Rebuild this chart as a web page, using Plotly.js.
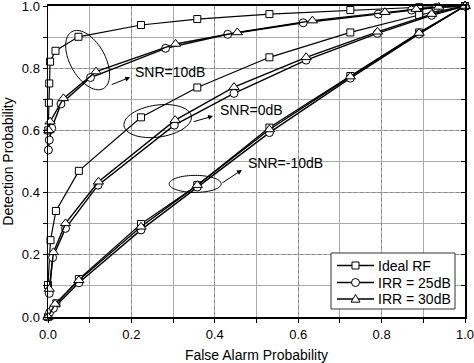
<!DOCTYPE html>
<html><head><meta charset="utf-8">
<script src="https://cdn.plot.ly/plotly-3.0.1.min.js"></script>
<style>body{margin:0;background:#fff}#c{width:474px;height:363px}</style>
</head><body><div id="c"></div>
<script>
// ---- data ----
const seriesNames = ['Ideal RF', 'IRR = 25dB', 'IRR = 30dB'];
// SNR = 10 dB
const ideal10_x = [0.0005, 0.002, 0.003, 0.005, 0.018, 0.073, 0.223, 0.358, 0.531, 0.725, 0.89, 1];
const ideal10_y = [0.60, 0.689, 0.751, 0.821, 0.856, 0.901, 0.939, 0.958, 0.974, 0.987, 0.996, 1];
const irr25_10_x = [0.001, 0.003, 0.009, 0.031, 0.102, 0.282, 0.431, 0.612, 0.792, 0.872, 0.93, 1];
const irr25_10_y = [0.537, 0.569, 0.607, 0.685, 0.770, 0.864, 0.909, 0.946, 0.974, 0.987, 0.995, 1];
const irr30_10_x = [0.002, 0.005, 0.037, 0.115, 0.306, 0.454, 0.634, 0.808, 0.883, 0.937, 1];
const irr30_10_y = [0.60, 0.628, 0.703, 0.789, 0.878, 0.915, 0.953, 0.98, 0.99, 0.997, 1];
// SNR = 0 dB
const ideal0_x = [0, 0.006, 0.019, 0.074, 0.223, 0.358, 0.531, 0.725, 0.89, 1];
const ideal0_y = [0.103, 0.247, 0.341, 0.470, 0.642, 0.738, 0.835, 0.915, 0.971, 1];
const irr25_0_x = [0.003, 0.011, 0.042, 0.12, 0.303, 0.446, 0.619, 0.79, 0.92, 1];
const irr25_0_y = [0.076, 0.191, 0.285, 0.424, 0.617, 0.719, 0.826, 0.912, 0.97, 1];
const irr30_0_x = [0.003, 0.013, 0.042, 0.121, 0.305, 0.446, 0.619, 0.79, 0.92, 1];
const irr30_0_y = [0.09, 0.208, 0.301, 0.435, 0.633, 0.739, 0.835, 0.917, 0.974, 1];
// SNR = -10 dB
const idealm10_x = [0, 0.02, 0.074, 0.223, 0.358, 0.531, 0.725, 0.89, 1];
const idealm10_y = [0, 0.044, 0.122, 0.299, 0.424, 0.609, 0.775, 0.915, 1];
const irr25_m10_x = [0, 0.004, 0.013, 0.074, 0.223, 0.358, 0.531, 0.725, 0.89, 1];
const irr25_m10_y = [0, 0.015, 0.028, 0.110, 0.280, 0.418, 0.593, 0.768, 0.91, 1];
const irr30_m10_x = [0, 0.017, 0.074, 0.223, 0.358, 0.531, 0.725, 0.89, 1];
const irr30_m10_y = [0, 0.042, 0.118, 0.290, 0.424, 0.603, 0.773, 0.913, 1];
const snrLabels = ['SNR=10dB', 'SNR=0dB', 'SNR=-10dB'];
const xTicks = [0.0, 0.2, 0.4, 0.6, 0.8, 1.0];
const yTicks = [0.0, 0.2, 0.4, 0.6, 0.8, 1.0];

// ---- layout geometry ----
const W = 474, H = 363, ML = 48, MR = 9, MT = 6, MB = 46;
const PW = W - ML - MR, PH = H - MT - MB;
const FONT = 'Liberation Sans, Arial, sans-serif';

const styles = [
  {symbol: 'square', size: 7, width: 1.2},
  {symbol: 'circle', size: 8, width: 1.4},
  {symbol: 'triangle-up', size: 9, width: 1.4}
];
function tr(x, y, k) {
  const s = styles[k];
  return {
    x: x, y: y, type: 'scatter', mode: 'lines+markers',
    name: seriesNames[k], showlegend: false,
    line: {color: '#000', width: s.width},
    marker: {symbol: s.symbol, size: s.size, color: '#fff',
             line: {color: '#000', width: 1}},
    cliponaxis: false
  };
}
const data = [
  tr(ideal10_x, ideal10_y, 0),
  tr(irr25_10_x, irr25_10_y, 1),
  tr(irr30_10_x, irr30_10_y, 2),
  tr(ideal0_x, ideal0_y, 0),
  tr(irr25_0_x, irr25_0_y, 1),
  tr(irr30_0_x, irr30_0_y, 2),
  tr(idealm10_x, idealm10_y, 0),
  tr(irr25_m10_x, irr25_m10_y, 1),
  tr(irr30_m10_x, irr30_m10_y, 2),
  // empty helper trace so the right-hand tick axis is drawn
  {x: [], y: [], xaxis: 'x', yaxis: 'y2', type: 'scatter', mode: 'lines', showlegend: false, hoverinfo: 'skip'}
];

// ellipse outline (decoration) centred at data point, radii in pixels
function ellipse(cx, cy, rx, ry, angDeg) {
  const a = angDeg * Math.PI / 180, n = 72;
  let p = '';
  for (let i = 0; i <= n; i++) {
    const t = 2 * Math.PI * i / n;
    const dx = rx * Math.cos(t) * Math.cos(a) - ry * Math.sin(t) * Math.sin(a);
    const dy = rx * Math.cos(t) * Math.sin(a) + ry * Math.sin(t) * Math.cos(a);
    p += (i ? 'L' : 'M') + (cx + dx / PW).toFixed(5) + ',' + (cy - dy / PH).toFixed(5);
  }
  return {type: 'path', xref: 'x', yref: 'y', path: p + 'Z', line: {color: '#000', width: 1}};
}

const shapes = [
  ellipse(0.095, 0.826, 32.5, 17.5, 61),
  ellipse(0.263, 0.630, 34, 16, -8),
  ellipse(0.353, 0.428, 26, 8.5, 0)
];

function arrow(x, y, ax, ay) {
  return {x: x, y: y, xref: 'x', yref: 'y', text: '', showarrow: true,
          ax: ax, ay: ay, arrowhead: 2, arrowsize: 1, arrowwidth: 1, arrowcolor: '#000'};
}
function label(x, y, t) {
  return {x: x, y: y, xref: 'x', yref: 'y', text: t, showarrow: false,
          xanchor: 'left', yanchor: 'middle', font: {family: FONT, size: 14, color: '#000'}};
}
const annotations = [
  arrow(0.197, 0.771, -20, 8), label(0.204, 0.788, snrLabels[0]),
  arrow(0.396, 0.646, -21, 6), label(0.408, 0.666, snrLabels[1]),
  arrow(0.465, 0.473, -21, 14), label(0.475, 0.495, snrLabels[2])
];

// ---- compact legend box (paper coordinates, pixel-sized symbols) ----
const px = v => (v - ML) / PW;        // page px -> paper x
const py = v => (H - MB - v) / PH;    // page px -> paper y
shapes.push({type: 'rect', xref: 'paper', yref: 'paper', x0: px(331), x1: px(455), y0: py(309), y1: py(253),
             line: {color: '#333', width: 1}, fillcolor: '#fff', layer: 'above'});
const legRows = [265.5, 282.5, 299];
seriesNames.forEach((nm, k) => {
  const yc = legRows[k], xc = 355.5;
  shapes.push({type: 'line', xref: 'paper', yref: 'paper', x0: px(337), x1: px(374), y0: py(yc), y1: py(yc),
               line: {color: '#000', width: 1.3}, layer: 'above'});
  const r = styles[k].size / 2;
  const mk = {xref: 'paper', yref: 'paper', line: {color: '#000', width: 1}, fillcolor: '#fff', layer: 'above'};
  if (k === 0) shapes.push(Object.assign({type: 'rect', x0: px(xc - r), x1: px(xc + r), y0: py(yc + r), y1: py(yc - r)}, mk));
  if (k === 1) shapes.push(Object.assign({type: 'circle', x0: px(xc - r), x1: px(xc + r), y0: py(yc + r), y1: py(yc - r)}, mk));
  if (k === 2) shapes.push(Object.assign({type: 'path',
    path: 'M' + px(xc - r) + ',' + py(yc + r * 0.7) + 'L' + px(xc + r) + ',' + py(yc + r * 0.7) +
          'L' + px(xc) + ',' + py(yc - r) + 'Z'}, mk));
  annotations.push({xref: 'paper', yref: 'paper', x: px(376), y: py(yc), text: nm, showarrow: false,
                    xanchor: 'left', yanchor: 'middle', font: {family: FONT, size: 14, color: '#000'}});
});

function axis(ticks, title, lw) {
  return {
    range: [0, 1], fixedrange: true,
    tickvals: ticks, ticktext: ticks.map(v => v.toFixed(1)),
    ticks: 'outside', ticklen: 4, tickwidth: 1, tickcolor: '#000',
    showline: true, linecolor: '#000', linewidth: lw, mirror: true,
    showgrid: true, gridcolor: '#888', gridwidth: 1, griddash: 'dot',
    zeroline: false, ticklabeloverflow: 'allow',
    minor: {dtick: 0.1, tick0: 0, showgrid: true, gridcolor: '#aaa', gridwidth: 1,
            griddash: 'solid', ticks: 'outside', ticklen: 4, tickcolor: '#000'},
    tickfont: {family: FONT, size: 13, color: '#000'},
    title: {text: title, font: {family: FONT, size: 14, color: '#000'}},
    automargin: false
  };
}

const layout = {
  width: W, height: H,
  margin: {l: ML, r: MR, t: MT, b: MB},
  paper_bgcolor: '#fff', plot_bgcolor: '#fff',
  font: {family: FONT, color: '#000'},
  xaxis: axis(xTicks, 'False Alarm Probability', 2),
  yaxis: axis(yTicks, 'Detection Probability', 1.5),
  yaxis2: {overlaying: 'y', side: 'right', range: [0, 1], fixedrange: true,
           dtick: 0.1, tick0: 0, ticks: 'inside', ticklen: 4, tickcolor: '#000',
           showticklabels: false, showgrid: false, zeroline: false, showline: false},
  showlegend: false,
  shapes: shapes,
  annotations: annotations
};
layout.xaxis.title.standoff = 10;
layout.yaxis.title.standoff = 6;

Plotly.newPlot('c', data, layout, {staticPlot: true, displayModeBar: false});
</script></body></html>
